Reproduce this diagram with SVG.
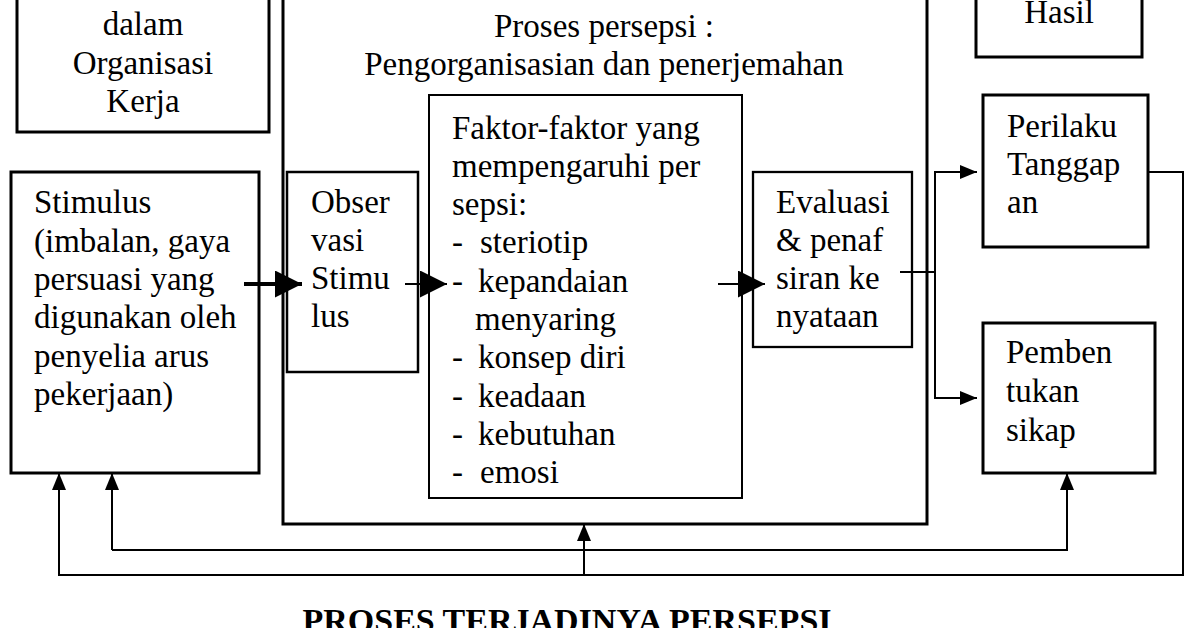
<svg xmlns="http://www.w3.org/2000/svg" width="1196" height="628" viewBox="0 0 1196 628">
<style>
  .box { fill: none; stroke: #000; stroke-width: 3; }
  .thin { fill: none; stroke: #000; stroke-width: 2; }
  .t { font-family: "Liberation Serif", "Times New Roman", serif; font-size: 33px; fill: #000; }
  .c { text-anchor: middle; }
  .ln { fill: none; stroke: #000; stroke-width: 2; }
  .title { font-family: "Liberation Serif", "Times New Roman", serif; font-size: 34px; font-weight: bold; text-anchor: middle; fill: #000; }
</style>
<defs>
  <marker id="big" markerUnits="userSpaceOnUse" markerWidth="28" markerHeight="28" refX="27" refY="13.5" orient="auto">
    <path d="M0,0 L27,13.5 L0,27 Z" fill="#000"/>
  </marker>
  <marker id="small" markerUnits="userSpaceOnUse" markerWidth="18" markerHeight="16" refX="17" refY="7" orient="auto">
    <path d="M0,0 L17,7 L0,14 Z" fill="#000"/>
  </marker>
</defs>
<rect width="1196" height="628" fill="#fff"/>

<g id="organisasi">
  <rect class="box" x="17" y="-20" width="252" height="152"/>
  <text class="t c" x="143" y="35">dalam</text>
  <text class="t c" x="143" y="74">Organisasi</text>
  <text class="t c" x="143" y="112">Kerja</text>
</g>

<g id="proses">
  <rect class="box" x="283" y="-20" width="644" height="544"/>
  <text class="t c" x="604" y="37">Proses persepsi :</text>
  <text class="t c" x="604" y="75">Pengorganisasian dan penerjemahan</text>
</g>

<g id="hasil">
  <rect class="box" x="976" y="-20" width="166" height="77"/>
  <text class="t c" x="1059" y="23">Hasil</text>
</g>

<g id="stimulus">
  <rect class="box" x="11" y="172" width="248" height="301"/>
  <text class="t" x="34" y="213">Stimulus</text>
  <text class="t" x="34" y="252">(imbalan, gaya</text>
  <text class="t" x="34" y="290">persuasi yang</text>
  <text class="t" x="34" y="328">digunakan oleh</text>
  <text class="t" x="34" y="367">penyelia arus</text>
  <text class="t" x="34" y="405">pekerjaan)</text>
</g>

<g id="observasi">
  <rect class="box" x="287" y="172" width="131" height="200" style="stroke-width:2.5"/>
  <text class="t" x="311" y="213">Obser</text>
  <text class="t" x="311" y="251">vasi</text>
  <text class="t" x="311" y="289">Stimu</text>
  <text class="t" x="311" y="327">lus</text>
</g>

<g id="faktor">
  <rect class="thin" x="429" y="95" width="313" height="403"/>
  <text class="t" x="452" y="139">Faktor-faktor yang</text>
  <text class="t" x="452" y="177">mempengaruhi per</text>
  <text class="t" x="452" y="215">sepsi:</text>
  <text class="t" x="452" y="253">-</text><text class="t" x="480" y="253">steriotip</text>
  <text class="t" x="452" y="292">-</text><text class="t" x="478" y="292">kepandaian</text>
  <text class="t" x="475" y="330">menyaring</text>
  <text class="t" x="452" y="368">-</text><text class="t" x="478" y="368">konsep diri</text>
  <text class="t" x="452" y="407">-</text><text class="t" x="478" y="407">keadaan</text>
  <text class="t" x="452" y="445">-</text><text class="t" x="478" y="445">kebutuhan</text>
  <text class="t" x="452" y="483">-</text><text class="t" x="480" y="483">emosi</text>
</g>

<g id="evaluasi">
  <rect class="box" x="753" y="172" width="159" height="175" style="stroke-width:2.3"/>
  <text class="t" x="776" y="213">Evaluasi</text>
  <text class="t" x="776" y="251">&amp; penaf</text>
  <text class="t" x="776" y="289">siran ke</text>
  <text class="t" x="776" y="327">nyataan</text>
</g>

<g id="perilaku">
  <rect class="box" x="983" y="95" width="165" height="152"/>
  <text class="t" x="1007" y="137">Perilaku</text>
  <text class="t" x="1007" y="175">Tanggap</text>
  <text class="t" x="1007" y="213">an</text>
</g>

<g id="pembentukan">
  <rect class="box" x="983" y="323" width="172" height="150"/>
  <text class="t" x="1006" y="363">Pemben</text>
  <text class="t" x="1006" y="402">tukan</text>
  <text class="t" x="1006" y="441">sikap</text>
</g>

<g id="connectors">
  <path d="M244,284 H302" fill="none" stroke="#000" stroke-width="4" marker-end="url(#big)"/>
  <path class="ln" d="M405,284 H447" marker-end="url(#big)"/>
  <path class="ln" d="M718,284 H765" marker-end="url(#big)"/>
  <path class="ln" d="M900,272 H935"/>
  <path class="ln" d="M935,272 V172 H977" marker-end="url(#small)"/>
  <path class="ln" d="M935,272 V398 H977" marker-end="url(#small)"/>
  <path class="ln" d="M1148,172 H1183 V575 H59 V473" marker-end="url(#small)"/>
  <path class="ln" d="M584,575 V524" marker-end="url(#small)"/>
  <path class="ln" d="M112,550 H1067 V473" marker-end="url(#small)"/>
  <path class="ln" d="M112,550 V473" marker-end="url(#small)"/>
</g>

<text class="title" x="567" y="632">PROSES TERJADINYA PERSEPSI</text>
</svg>
